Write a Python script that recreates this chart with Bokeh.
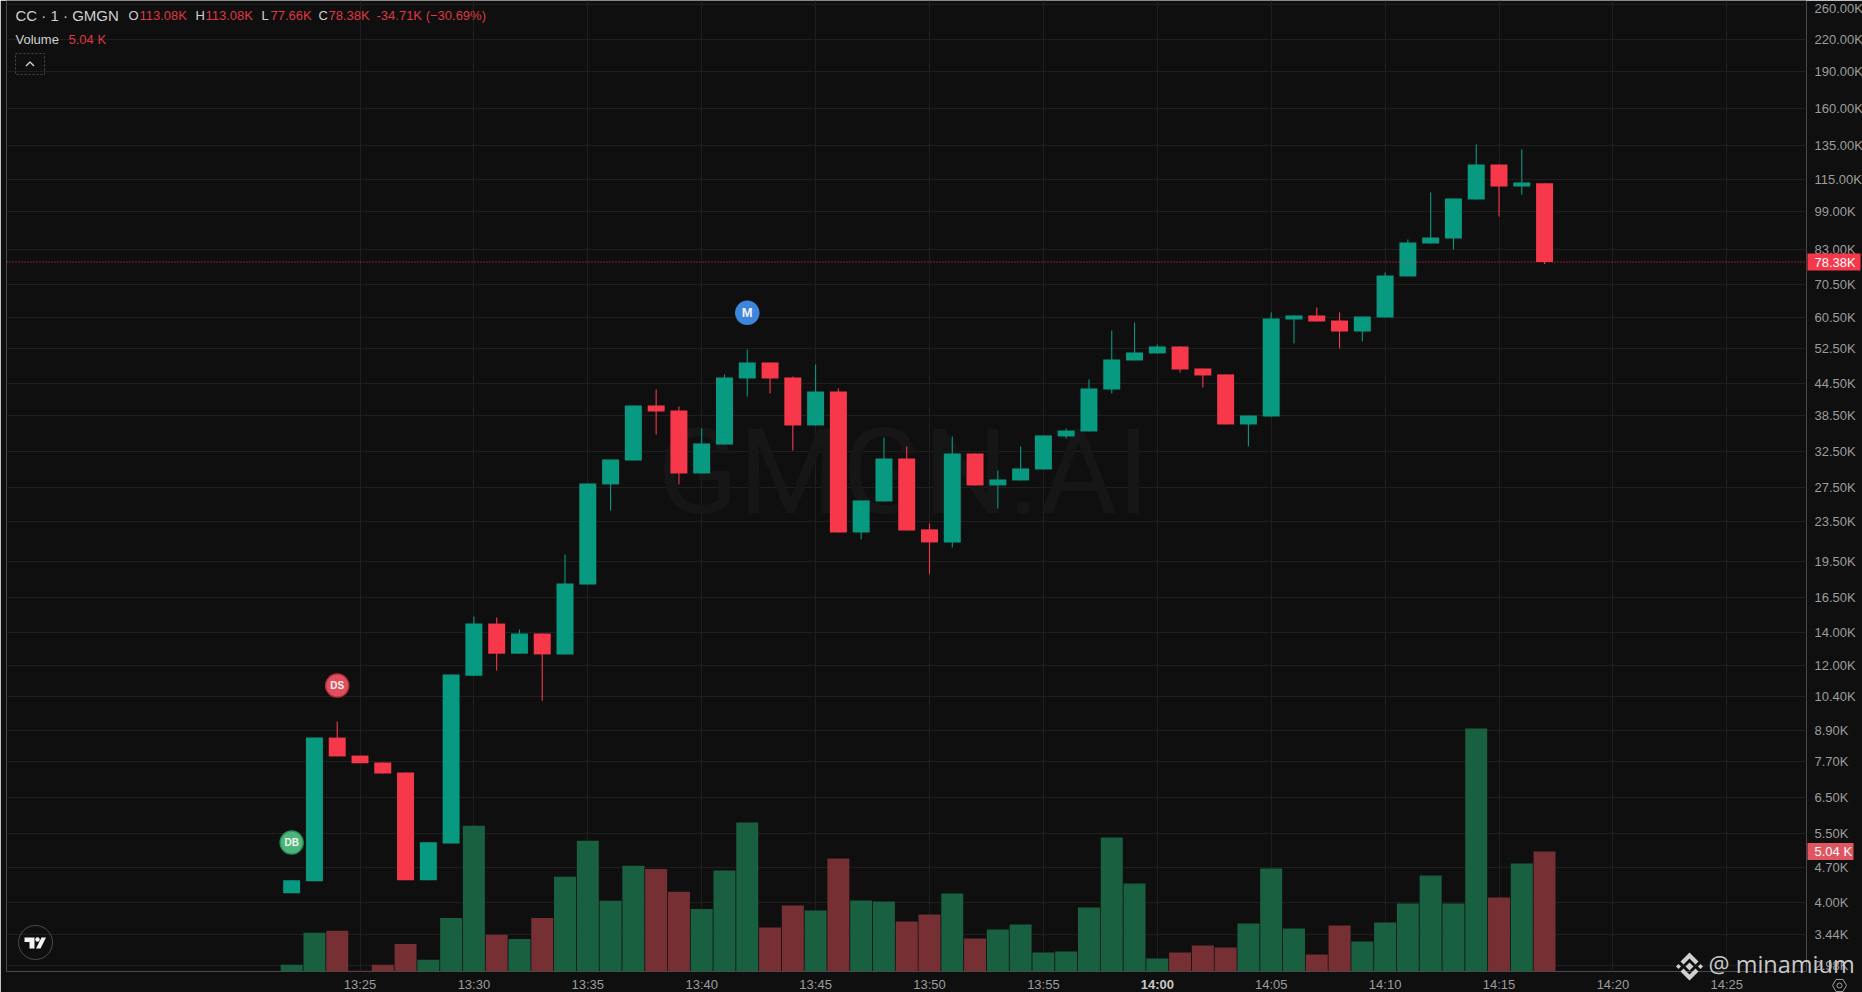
import math
from bokeh.embed import file_html
from bokeh.resources import INLINE
from bokeh.plotting import figure
from bokeh.core.properties import value
from bokeh.models import (ColumnDataSource, FixedTicker, Label, LinearScale,
                          PrintfTickFormatter, Range1d, Span)

# ---- data (prices and volumes in thousands, x in minutes after midnight)
minutes = list(range(802, 858))
opens = [4.17,4.41,8.60,7.91,7.66,7.31,4.43,5.26,11.47,14.61,12.70,13.95,12.66,17.52,27.89,31.17,40.25,39.32,29.35,33.58,
         45.63,49.15,45.84,36.68,42.95,22.31,25.77,31.46,22.63,21.30,32.20,27.76,28.41,29.90,34.85,35.67,43.35,49.61,51.25,52.94,
         47.80,46.50,36.85,38.24,60.02,61.15,59.74,56.76,60.58,73.30,85.44,87.45,104.82,123.30,111.34,113.08]
closes = [4.43,8.60,7.88,7.63,7.28,4.43,5.29,11.53,14.61,12.70,13.95,12.66,17.60,28.01,31.32,40.25,39.14,29.35,33.74,45.84,
          49.15,45.63,36.68,42.95,22.31,25.89,31.46,22.52,21.30,32.20,27.76,28.54,30.04,35.02,35.83,43.56,49.84,51.49,52.94,47.58,
          46.27,36.85,38.42,60.30,61.15,59.46,56.76,60.86,73.63,85.84,87.86,105.31,123.30,111.34,113.43,78.38]
highs = [4.43,8.60,9.27,7.91,7.66,7.31,5.29,11.53,15.10,15.03,14.21,13.95,20.14,28.01,31.32,40.25,43.35,40.06,36.17,46.50,
         52.21,49.15,46.05,48.70,43.56,25.89,34.69,33.27,23.26,34.85,32.20,29.76,33.27,35.02,36.17,45.42,57.03,59.19,53.44,52.94,
         47.80,46.50,38.42,62.00,61.15,63.46,62.00,60.86,74.67,87.04,108.29,105.31,135.34,123.30,132.23,113.08]
lows = [4.17,4.41,7.88,7.63,7.28,4.43,4.43,5.26,11.47,11.74,12.70,10.21,12.66,17.52,24.71,31.17,35.18,27.89,29.35,33.58,
        41.97,42.56,32.66,36.68,22.31,21.60,25.77,22.52,18.36,20.81,27.76,24.94,28.41,29.90,34.53,35.67,42.56,49.61,51.25,46.92,
        43.76,36.85,33.27,38.24,53.69,59.46,52.45,54.19,60.58,73.30,85.44,83.09,104.82,96.86,107.28,77.66]
volumes = [0.28,1.63,1.71,0.03,0.28,1.16,0.49,2.25,6.12,1.54,1.37,2.25,3.98,5.49,2.97,4.44,4.31,3.35,2.63,4.24,
           6.26,1.85,2.77,2.56,4.75,2.98,2.94,2.10,2.39,3.28,1.39,1.76,1.97,0.80,0.84,2.69,5.63,3.70,0.55,0.80,
           1.09,1.01,2.02,4.33,1.81,0.71,1.93,1.26,2.06,2.86,4.03,2.86,10.21,3.11,4.54,5.04]
price_ticks = [260,220,190,160,135,115,99,83,70.5,60.5,52.5,44.5,38.5,32.5,27.5,23.5,19.5,16.5,14,12,10.4,8.9,7.7,6.5,5.5,4.7,4,3.44,2.98]
time_ticks = list(range(805, 870, 5))
time_labels = ["13:25","13:30","13:35","13:40","13:45","13:50","13:55","","14:05","14:10","14:15","14:20","14:25"]
event_x = [802, 804, 822]
event_y = [5.28, 10.95, 61.9]
event_text = ["DB", "DS", "M"]
event_size = ["10px", "10px", "13px"]
event_fill = ["#4cb67a", "#e0505c", "#3d86dc"]
event_line = ["#2c8f58", "#bf2f3c", "#3d86dc"]
last_price = 78.38
last_volume = 5.04

UP, DOWN = "#089981", "#F7384A"
VUP, VDOWN = "#186040", "#762F33"
BG, GRID, AXIS = "#0F0F0F", "#1F1F1F", "#9C9C9C"
FONT = "Liberation Sans"

# pixel <-> data helpers for the decorations
PX_MIN, X0, PX_K = 22.78, 359.5, 215.2
def X(px): return 805 + (px - X0) / PX_MIN
def Y(py): return 260 * math.exp((3.5 - py) / PX_K)

LEFT, RIGHT, BOTTOM = 6, 1806, 971
VOL_TOP = 40.8
p = figure(frame_width=RIGHT - LEFT, frame_height=BOTTOM, output_backend="svg", toolbar_location=None,
           x_range=Range1d(X(LEFT), X(RIGHT)), y_range=Range1d(Y(BOTTOM), Y(0)),
           y_axis_type="log", y_axis_location="right",
           min_border_left=LEFT, min_border_right=1862 - RIGHT, min_border_top=0, min_border_bottom=992 - BOTTOM,
           background_fill_color=BG, border_fill_color=BG, outline_line_color=None)
p.styles = {"position": "absolute", "left": "0", "top": "0"}
p.extra_y_ranges = {"vol": Range1d(0, VOL_TOP)}
p.extra_y_scales = {"vol": LinearScale()}

xa = p.xaxis[0]
xa.ticker = FixedTicker(ticks=time_ticks)
xa.major_label_overrides = dict(zip(time_ticks, time_labels))
ya = p.yaxis[0]
ya.ticker = FixedTicker(ticks=price_ticks)
ya.formatter = PrintfTickFormatter(format="%.2fK")
for a in (xa, ya):
    a.axis_line_color = None
    a.major_tick_line_color = None
    a.minor_tick_line_color = None
    a.major_tick_out = 0
    a.major_tick_in = 0
    a.minor_tick_out = 0
    a.minor_tick_in = 0
    a.major_label_text_color = AXIS
    a.major_label_text_font = FONT
    a.major_label_text_font_size = "13px"
xa.major_label_standoff = 5
ya.major_label_standoff = 8

p.xgrid.ticker = FixedTicker(ticks=time_ticks)
p.ygrid.ticker = FixedTicker(ticks=price_ticks)
p.xgrid.grid_line_color = GRID
p.ygrid.grid_line_color = GRID
p.xgrid.minor_grid_line_color = None
p.ygrid.minor_grid_line_color = None

def label(text, px, py, color, size, align="left", style="normal", font=FONT, **kw):
    return Label(x=px - LEFT, y=BOTTOM - py, x_units="screen", y_units="screen", text=text,
                 text_color=color, text_font_size=size, text_align=align, text_baseline="middle",
                 text_font_style=style, text_font=font, **kw)

# watermark
p.add_layout(label("GMGN.AI", 903, 472, "#161617", "119px", "center", font="Roboto", level="underlay"))

src = ColumnDataSource(dict(
    x=minutes, o=opens, c=closes, h=highs, l=lows, v=volumes,
    body_top=[max(a, b) for a, b in zip(opens, closes)],
    body_bot=[min(a, b) for a, b in zip(opens, closes)],
    color=[UP if c >= o else DOWN for o, c in zip(opens, closes)],
    vcolor=[VUP if c >= o else VDOWN for o, c in zip(opens, closes)],
))
p.vbar(x="x", top="v", bottom=0, width=0.965, fill_color="vcolor", line_color=None, source=src, y_range_name="vol")
p.segment(x0="x", x1="x", y0="l", y1="h", line_color="color", line_width=1.1, source=src)
p.vbar(x="x", top="body_top", bottom="body_bot", width=0.745, fill_color="color", line_color=None, source=src)

p.add_layout(Span(location=last_price, dimension="width", line_color=DOWN, line_dash="1 2", line_width=1))

# event badges
p.scatter(event_x, event_y, size=23, fill_color=event_fill, line_color=event_line, line_width=1.5)
p.text(event_x, event_y, text=event_text, text_color="#F2F2F2", text_font=value(FONT), text_font_style="bold",
       text_font_size=event_size, text_align="center", text_baseline="middle")

# legend rows
RED = "#DF3843"
LBL = "#CFCFCF"
p.add_layout(label("CC · 1 · GMGN", 15, 15, LBL, "15px"))
for txt, px, col in [("O", 128, LBL), ("113.08K", 139, RED), ("H", 195, LBL), ("113.08K", 205, RED),
                     ("L", 261, LBL), ("77.66K", 270, RED), ("C", 318, LBL), ("78.38K", 328, RED),
                     ("-34.71K (−30.69%)", 376, RED)]:
    p.add_layout(label(txt, px, 15, col, "13px"))
p.add_layout(label("Volume", 15, 39, LBL, "13px"))
p.add_layout(label("5.04 K", 68, 39, RED, "13px"))

# collapse button
p.quad(left=[X(15)], right=[X(44)], top=[Y(53)], bottom=[Y(74)], fill_color=None, line_color="#4A4A4A",
       line_dash="2 2", line_width=1)
p.line([X(25.5), X(29.5), X(33.5)], [Y(65.5), Y(61.5), Y(65.5)], line_color="#D0D0D0", line_width=1.4)

# chart-library logo
p.scatter([X(35)], [Y(942)], size=34, fill_color=None, line_color="#4A4A4A", line_width=1)
p.patches([[X(24), X(34), X(34), X(29), X(29), X(24)],
           [X(41), X(45.5), X(40), X(35.5)]],
          [[Y(937), Y(937), Y(948), Y(948), Y(941.5), Y(941.5)],
           [Y(937), Y(937), Y(948), Y(948)]],
          fill_color="#F4F4F4", line_color=None)
p.scatter([X(37)], [Y(939)], size=4.5, fill_color="#F4F4F4", line_color=None)

# ---- transparent full-window layer for what crosses the plot frame
q = figure(width=1862, height=992, output_backend="svg", toolbar_location=None,
           x_range=Range1d(X(0), X(1862)), y_range=Range1d(Y(992), Y(0)),
           y_axis_type="log", x_axis_location=None, y_axis_location=None,
           min_border=0, background_fill_alpha=0, border_fill_alpha=0, outline_line_color=None)
q.styles = {"position": "absolute", "left": "0", "top": "0"}
q.grid.visible = False

def tag(text, val_px, fill, right):
    q.quad(left=[X(1807)], right=[X(right)], top=[Y(val_px - 8.5)], bottom=[Y(val_px + 8.5)], fill_color=fill, line_color=None)
    q.text([X(1814)], [Y(val_px)], text=[text], text_color="#FFFFFF", text_font=value(FONT), text_font_size="13px",
           text_baseline="middle")

tag("%.2fK" % last_price, 3.5 + PX_K * math.log(260 / last_price), "#F7384A", 1860)
tag("%.2f K" % last_volume, BOTTOM * (1 - last_volume / VOL_TOP), "#DF5560", 1853)

q.text([840], [Y(984)], text=["14:00"], text_color="#C8C8C8", text_font=value(FONT), text_font_size="13px",
       text_font_style="bold", text_align="center", text_baseline="middle")

# settings hexagon
q.scatter([X(1839)], [Y(985)], marker="hex", size=14, fill_color=None, line_color="#A0A0A0", line_width=1)
q.scatter([X(1839)], [Y(985)], size=5, fill_color=None, line_color="#A0A0A0", line_width=1)

# signature overlay
cx, cy = 1689, 966
q.patches([[X(cx), X(cx + 9), X(cx + 6), X(cx), X(cx - 6), X(cx - 9)],
           [X(cx), X(cx + 9), X(cx + 6), X(cx), X(cx - 6), X(cx - 9)],
           [X(cx), X(cx + 4), X(cx), X(cx - 4)],
           [X(cx - 11), X(cx - 8.5), X(cx - 11), X(cx - 13.5)],
           [X(cx + 11), X(cx + 13.5), X(cx + 11), X(cx + 8.5)]],
          [[Y(cy - 14), Y(cy - 5), Y(cy - 2), Y(cy - 8), Y(cy - 2), Y(cy - 5)],
           [Y(cy + 14), Y(cy + 5), Y(cy + 2), Y(cy + 8), Y(cy + 2), Y(cy + 5)],
           [Y(cy - 4), Y(cy), Y(cy + 4), Y(cy)],
           [Y(cy - 2.5), Y(cy), Y(cy + 2.5), Y(cy)],
           [Y(cy - 2.5), Y(cy), Y(cy + 2.5), Y(cy)]],
          fill_color="#D0D0D0", line_color=None)
q.text([X(1708)], [Y(963)], text=["@ minamium"], text_color="#C8C8C8", text_font=value("Open Sans"),
       text_font_size="23.5px", text_baseline="middle")

open("out.html", "w").write(file_html([p, q], INLINE))
